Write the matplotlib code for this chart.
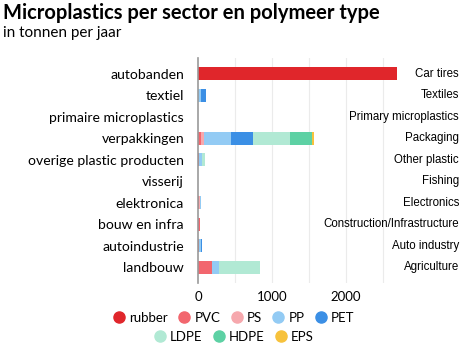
import matplotlib.pyplot as plt
from matplotlib.lines import Line2D
from matplotlib.transforms import blended_transform_factory
import numpy as np

sectors_nl = ["autobanden", "textiel", "primaire microplastics", "verpakkingen",
              "overige plastic producten", "visserij", "elektronica",
              "bouw en infra", "autoindustrie", "landbouw"]
sectors_en = ["Car tires", "Textiles", "Primary microplastics", "Packaging",
              "Other plastic", "Fishing", "Electronics",
              "Construction/Infrastructure", "Auto industry", "Agriculture"]

polymers = ["rubber", "PVC", "PS", "PP", "PET", "LDPE", "HDPE", "EPS"]
colors = ["#e0262b", "#f2666e", "#f6a8ad", "#93cbf4", "#3b8fe5",
          "#b1e9d4", "#5dd1a4", "#f7c23c"]

# tonnes per year, per sector, per polymer
rubber = [2680, 0, 0, 0, 0, 0, 0, 0, 0, 0]
pvc    = [0, 0, 0, 40, 20, 0, 10, 30, 10, 185]
ps     = [0, 0, 0, 40, 0, 0, 15, 0, 0, 0]
pp     = [0, 40, 0, 365, 40, 0, 15, 0, 25, 100]
pet    = [0, 70, 0, 297, 0, 0, 0, 0, 20, 0]
ldpe   = [0, 0, 0, 500, 40, 0, 0, 0, 0, 555]
hdpe   = [0, 0, 0, 300, 0, 0, 0, 0, 0, 0]
eps    = [0, 0, 0, 27, 0, 0, 0, 0, 0, 0]

series = [rubber, pvc, ps, pp, pet, ldpe, hdpe, eps]

W, H = 474, 353
fig = plt.figure(figsize=(W / 100, H / 100), dpi=100)
ax = fig.add_axes([198 / W, 1 - 283 / H, 200 / W, 225 / H])

y = np.arange(len(sectors_nl))
left = np.zeros(len(sectors_nl))
for name, vals, c in zip(polymers, series, colors):
    vals = np.array(vals, dtype=float)
    ax.barh(y, vals, left=left, height=0.6, color=c, label=name, zorder=2)
    left += vals

ax.set_xlim(0, 2700)
ax.set_ylim(9.72, -0.72)
ax.set_xticks([0, 1000, 2000])
ax.set_xticklabels(["0", "1000", "2000"], fontfamily="Lato", fontsize=9.5)
for gx in [500, 1000, 1500, 2000, 2500]:
    ax.axvline(gx, color="#ebebeb", lw=0.8, zorder=0)
ax.set_yticks(y)
ax.set_yticklabels(sectors_nl, fontfamily="Lato", fontsize=10.1)
ax.tick_params(axis="y", length=0, pad=10)
ax.tick_params(axis="x", length=0, pad=6)
for s in ["top", "right", "bottom"]:
    ax.spines[s].set_visible(False)
ax.spines["left"].set_color("#999999")
ax.spines["left"].set_linewidth(1.2)

trans = blended_transform_factory(fig.transFigure, ax.transData)
for yi, lab in zip(y, sectors_en):
    ax.text(459 / W, yi, lab, transform=trans, ha="right", va="center",
            fontfamily="Liberation Sans", fontsize=8.3)

title = fig.text(3 / W, 1 - 13 / H, "Microplastics per sector en polymeer type",
                 fontfamily="Lato", fontweight="bold", fontsize=13, va="center")
subtitle = fig.text(3 / W, 1 - 33 / H, "in tonnen per jaar",
                    fontfamily="Lato", fontsize=10.5, va="center")

# scale the header texts to the widths they have in the reference
renderer = fig.canvas.get_renderer()
for t, target in [(title, 376), (subtitle, 119)]:
    w = t.get_window_extent(renderer).width
    t.set_fontsize(t.get_fontsize() * target / w)


def handles(names):
    return [Line2D([], [], marker="o", ls="", ms=8,
                   color=colors[polymers.index(n)], label=n) for n in names]


for names, yy in [(polymers[:5], 318), (polymers[5:], 337)]:
    fig.legend(handles=handles(names), loc="center", ncol=len(names),
               bbox_to_anchor=(234 / W, 1 - yy / H), frameon=False,
               prop={"family": "Lato", "size": 9.5}, handlelength=0.85,
               handletextpad=0.35, columnspacing=0.8,
               borderaxespad=0, borderpad=0)

fig.savefig("out.png", dpi=100)
